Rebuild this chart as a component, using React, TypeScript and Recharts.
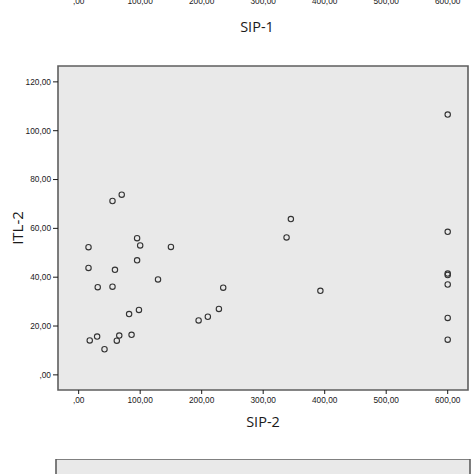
import { ScatterChart, Scatter, XAxis, YAxis, ReferenceArea } from 'recharts'

// SIP-2 (x) vs ITL-2 (y)
const sip2 = [55, 70, 16, 95, 100, 150, 16, 95, 59, 129, 31, 55, 82, 98, 195, 210, 228, 235, 18, 30, 42, 66, 62, 86, 345, 338, 600, 600, 600, 600, 600, 393, 600, 600]
const itl2 = [71.2, 73.8, 52.3, 56, 53, 52.4, 43.8, 46.9, 43, 39.1, 35.9, 36.1, 24.9, 26.6, 22.3, 23.8, 27, 35.7, 14.1, 15.7, 10.5, 16.1, 14, 16.4, 63.8, 56.3, 106.6, 58.6, 41.5, 40.9, 37, 34.4, 23.3, 14.4]

const xTicks = [0, 100, 200, 300, 400, 500, 600]
const yTicks = [0, 20, 40, 60, 80, 100, 120]
const xDomain = [-33.6, 633]
const yDomain = [-6.2, 126.5]

const points = sip2.map((x, i) => ({ x, y: itl2[i] }))

const BG = '#e9e9e9'
const BORDER = '#5e5e5e'
const INK = '#1a1a1a'
const TICK_FONT = { fontSize: 8.3, fill: INK, fontFamily: 'Liberation Sans, Arial, sans-serif' }
const TITLE_FONT = { fontSize: 14.5, fill: INK, fontFamily: 'Open Sans, sans-serif' }
const fmt = (v: number) => (v === 0 ? ',00' : `${v},00`)

const Ring = (p: any) => (
  <circle cx={p.cx} cy={p.cy} r={2.7} fill="none" stroke="#333" strokeWidth={1.1} />
)

export default function App() {
  return (
    <div style={{ position: 'absolute', left: 0, top: 0, width: 474, height: 474, overflow: 'hidden', background: '#fff' }}>
      {/* bottom of the previous panel (SIP-1), mostly off the page */}
      <div style={{ position: 'absolute', left: 0, top: -19 }}>
        <ScatterChart width={474} height={80} margin={{ top: 10, right: 6, bottom: 50, left: 0 }}>
          <XAxis type="number" dataKey="x" domain={xDomain} ticks={xTicks} tickFormatter={fmt} height={20}
            allowDataOverflow tick={TICK_FONT} tickSize={4} tickMargin={3} axisLine={false} tickLine={{ stroke: INK }}
            label={{ value: 'SIP-1', position: 'bottom', offset: 11, dx: -6, style: TITLE_FONT }} />
          <YAxis type="number" dataKey="y" domain={yDomain} allowDataOverflow width={58} tick={false} axisLine={false} tickLine={false} />
          <Scatter data={[]} isAnimationActive={false} />
        </ScatterChart>
      </div>

      {/* main panel */}
      <div style={{ position: 'absolute', left: 0, top: 0 }}>
        <ScatterChart width={474} height={474} margin={{ top: 66, right: 6, bottom: 64, left: 0 }}>
          <XAxis type="number" dataKey="x" domain={xDomain} ticks={xTicks} tickFormatter={fmt} height={20}
            tick={TICK_FONT} tickSize={4} tickMargin={3} axisLine={false} tickLine={{ stroke: INK }}
            allowDataOverflow
            label={{ value: 'SIP-2', position: 'bottom', offset: 7, style: TITLE_FONT }} />
          <YAxis type="number" dataKey="y" domain={yDomain} ticks={yTicks} tickFormatter={fmt} width={58}
            tick={TICK_FONT} tickSize={5} tickMargin={2} axisLine={false} tickLine={{ stroke: INK }}
            allowDataOverflow
            label={{ value: 'ITL-2', angle: -90, position: 'insideLeft', offset: 18, style: { ...TITLE_FONT, textAnchor: 'middle', fontSize: 15 } }} />
          <ReferenceArea x1={xDomain[0]} x2={xDomain[1]} y1={yDomain[0]} y2={yDomain[1]} fill={BG} fillOpacity={1} stroke={BORDER} strokeWidth={1.6} />
          <Scatter data={points} shape={Ring} isAnimationActive={false} />
        </ScatterChart>
      </div>

      {/* top of the next panel, cut off by the page */}
      <div style={{ position: 'absolute', left: 0, top: 459 }}>
        <ScatterChart width={474} height={60} margin={{ top: 0, right: 4, bottom: 0, left: 56 }}>
          <XAxis type="number" dataKey="x" domain={xDomain} allowDataOverflow hide />
          <YAxis type="number" dataKey="y" domain={yDomain} allowDataOverflow hide />
          <ReferenceArea x1={xDomain[0]} x2={xDomain[1]} y1={yDomain[0]} y2={yDomain[1]} fill={BG} fillOpacity={1} stroke={BORDER} strokeWidth={1.6} />
          <Scatter data={[]} isAnimationActive={false} />
        </ScatterChart>
      </div>
    </div>
  )
}
